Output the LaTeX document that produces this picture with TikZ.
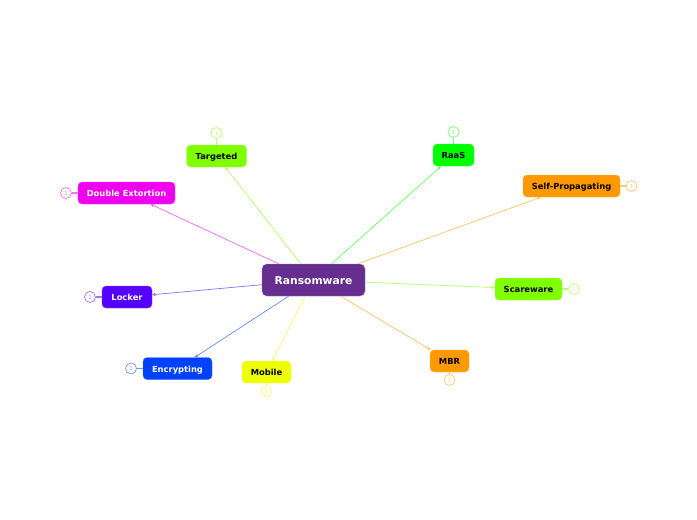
\documentclass[tikz,border=0pt]{standalone}
\usepackage{fontspec}
\usetikzlibrary{arrows.meta}
\setmainfont{DejaVu Sans}
\definecolor{rootpurple}{HTML}{662E8E}
\definecolor{lime}{HTML}{80FF00}
\definecolor{magenta1}{HTML}{EE00EE}
\definecolor{violet1}{HTML}{5500FF}
\definecolor{blue1}{HTML}{0040FF}
\definecolor{yellow1}{HTML}{EEFF00}
\definecolor{orange1}{HTML}{FF9900}
\definecolor{green1}{HTML}{00FF00}
\begin{document}
\begin{tikzpicture}[x=1pt, y=-1pt,
  root/.style = {draw=rootpurple!70, fill=rootpurple, rounded corners=5pt, inner sep=0pt, minimum height=32pt, minimum width=103pt, text=white, text height=9pt, text depth=0.4pt, font=\fontsize{10.7}{13}\selectfont\bfseries},
  topic/.style = {draw=#1!70, fill=#1, rounded corners=4pt, inner sep=0pt, minimum height=22pt, text height=7.5pt, text depth=0.5pt, font=\fontsize{8.35}{10}\selectfont\bfseries},
  badge/.style = {draw=#1!50, line width=0.8pt, fill=white, circle, inner sep=0pt, minimum size=11pt, text=#1!50, font=\fontsize{5.5}{6}\selectfont},
  link/.style = {draw=#1!60, line width=0.7pt, -{Stealth[length=3.5pt,width=3.5pt]}},
  stub/.style = {draw=#1!55, line width=1.3pt}]
\useasboundingbox (0,0) rectangle (697,520);
\node[root] (ransomware) at (313.5,280) {Ransomware};
\node[topic=lime, minimum width=60pt] (targeted) at (216.5,156) {Targeted};
\node[topic=magenta1, minimum width=97pt, text=white] (double) at (126.5,193) {Double Extortion};
\node[topic=violet1, minimum width=50pt, text=white] (locker) at (127,297) {Locker};
\node[topic=blue1, minimum width=69pt, text=white] (encrypting) at (177.5,368.5) {Encrypting};
\node[topic=yellow1, minimum width=49pt] (mobile) at (266.5,372) {Mobile};
\node[topic=orange1, minimum width=39pt] (mbr) at (449.5,361) {MBR};
\node[topic=lime, minimum width=67pt] (scareware) at (528.5,289) {Scareware};
\node[topic=orange1, minimum width=97pt] (selfprop) at (571.5,186) {Self-Propagating};
\node[topic=green1, minimum width=41pt] (raas) at (453.5,155) {RaaS};
\node[badge=lime] (n1) [above of=targeted, node distance=23pt] {1};
\node[badge=magenta1] (n2) [left of=double, node distance=60.5pt] {1};
\node[badge=violet1] (n3) [left of=locker, node distance=37pt] {1};
\node[badge=blue1] (n4) [left of=encrypting, node distance=46.5pt] {1};
\node[badge=yellow1] (n5) [below of=mobile, node distance=19pt] {1};
\node[badge=orange1] (n6) [below of=mbr, node distance=19pt] {1};
\node[badge=lime] (n7) [right of=scareware, node distance=45.5pt] {1};
\node[badge=orange1] (n8) [right of=selfprop, node distance=60pt] {1};
\node[badge=green1] (n9) [above of=raas, node distance=23pt] {1};
\draw[link=lime] (ransomware) -- (targeted);
\draw[link=magenta1] (ransomware) -- (double);
\draw[link=violet1] (ransomware) -- (locker);
\draw[link=blue1] (ransomware) -- (encrypting);
\draw[link=yellow1] (ransomware) -- (mobile);
\draw[link=orange1] (ransomware) -- (mbr);
\draw[link=lime] (ransomware) -- (scareware);
\draw[link=orange1] (ransomware) -- (selfprop);
\draw[link=green1] (ransomware) -- (raas);
\draw[stub=lime] (targeted) -- (n1);
\draw[stub=magenta1] (double) -- (n2);
\draw[stub=violet1] (locker) -- (n3);
\draw[stub=blue1] (encrypting) -- (n4);
\draw[stub=yellow1] (mobile) -- (n5);
\draw[stub=orange1] (mbr) -- (n6);
\draw[stub=lime] (scareware) -- (n7);
\draw[stub=orange1] (selfprop) -- (n8);
\draw[stub=green1] (raas) -- (n9);
\end{tikzpicture}
\end{document}
